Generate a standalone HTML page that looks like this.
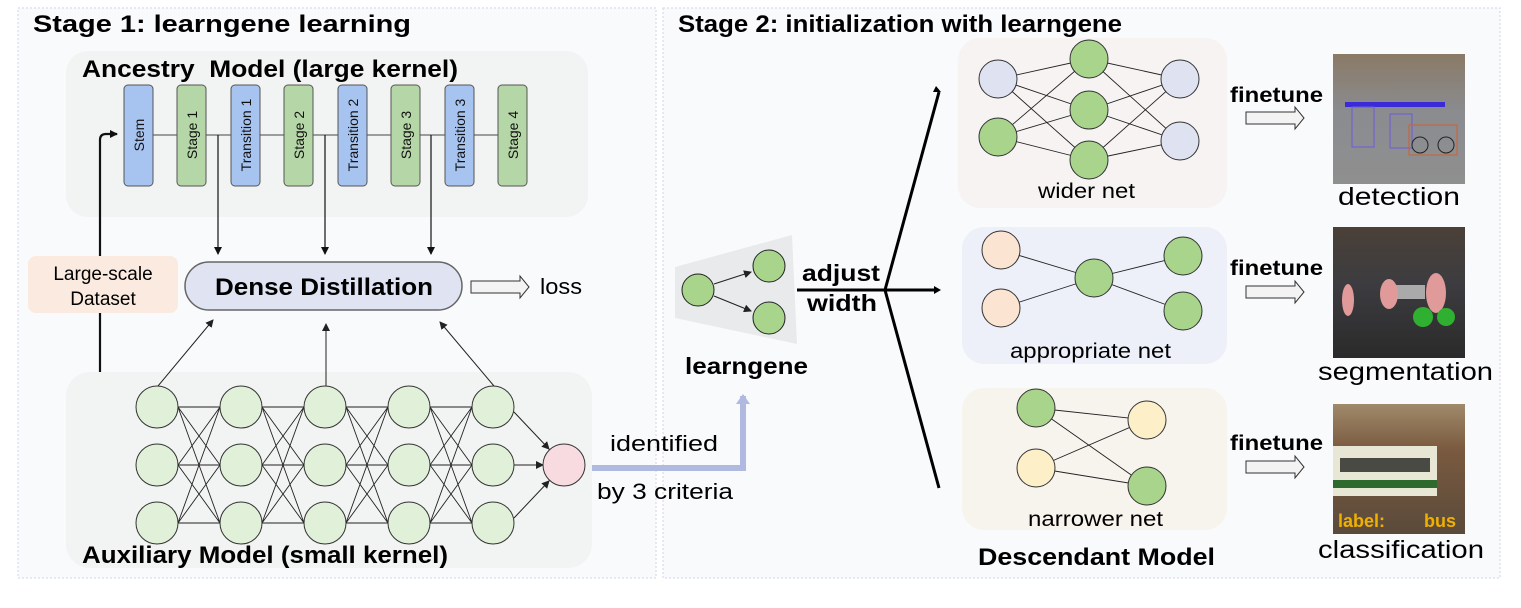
<!DOCTYPE html>
<html><head><meta charset="utf-8"><style>
html,body{margin:0;padding:0;background:#fff;}
svg{display:block;font-family:"Liberation Sans",Arial,sans-serif;}
</style></head><body>
<svg width="1521" height="608" viewBox="0 0 1521 608" xmlns="http://www.w3.org/2000/svg">
<defs>
<marker id="ah" markerWidth="8" markerHeight="8" refX="7" refY="4" orient="auto" markerUnits="userSpaceOnUse"><path d="M0,0 L8,4 L0,8 z" fill="#111"/></marker>
<marker id="ahb" markerWidth="8" markerHeight="8" refX="7" refY="4" orient="auto" markerUnits="userSpaceOnUse"><path d="M0,0 L8,4 L0,8 z" fill="#222"/></marker>
<marker id="ahl" markerWidth="16" markerHeight="16" refX="8" refY="8" orient="auto" markerUnits="userSpaceOnUse"><path d="M0,1 L10,8 L0,15 z" fill="#b0b9e0"/></marker>
</defs>
<!-- panels -->
<rect x="18" y="8" width="638" height="570" fill="#f9fafc" stroke="#cfd6ee" stroke-dasharray="2,2"/>
<rect x="663" y="8" width="837" height="570" fill="#f9fafc" stroke="#cfd6ee" stroke-dasharray="2,2"/>
<text x="33" y="32" font-size="24" font-weight="bold" textLength="378" lengthAdjust="spacingAndGlyphs">Stage 1: learngene learning</text>
<text x="678" y="32" font-size="24" font-weight="bold" textLength="444" lengthAdjust="spacingAndGlyphs">Stage 2: initialization with learngene</text>

<!-- Ancestry -->
<rect x="66" y="51" width="522" height="166" rx="22" fill="#f2f3f3"/>
<text x="82" y="77" font-size="24" font-weight="bold" xml:space="preserve" textLength="376" lengthAdjust="spacingAndGlyphs">Ancestry  Model (large kernel)</text>
<line x1="148" y1="135" x2="522" y2="135" stroke="#444" stroke-width="1"/>
<g stroke="#555" stroke-width="1">
<rect x="124" y="85" width="29" height="101" rx="4" fill="#a7c4f1"/>
<rect x="177" y="85" width="29" height="101" rx="4" fill="#b5d6a6"/>
<rect x="231" y="85" width="29" height="101" rx="4" fill="#a7c4f1"/>
<rect x="284" y="85" width="29" height="101" rx="4" fill="#b5d6a6"/>
<rect x="338" y="85" width="29" height="101" rx="4" fill="#a7c4f1"/>
<rect x="391" y="85" width="29" height="101" rx="4" fill="#b5d6a6"/>
<rect x="445" y="85" width="29" height="101" rx="4" fill="#a7c4f1"/>
<rect x="498" y="85" width="29" height="101" rx="4" fill="#b5d6a6"/>
</g>
<g font-size="14" fill="#111" text-anchor="middle">
<text transform="translate(144,135) rotate(-90)">Stem</text>
<text transform="translate(197,135) rotate(-90)">Stage 1</text>
<text transform="translate(251,135) rotate(-90)">Transition 1</text>
<text transform="translate(304,135) rotate(-90)">Stage 2</text>
<text transform="translate(358,135) rotate(-90)">Transition 2</text>
<text transform="translate(411,135) rotate(-90)">Stage 3</text>
<text transform="translate(465,135) rotate(-90)">Transition 3</text>
<text transform="translate(518,135) rotate(-90)">Stage 4</text>
</g>
<g stroke="#111" stroke-width="1.2" marker-end="url(#ah)">
<line x1="218" y1="135" x2="218" y2="254"/>
<line x1="325" y1="135" x2="325" y2="254"/>
<line x1="431" y1="135" x2="431" y2="254"/>
</g>

<!-- dataset -->
<rect x="28" y="256" width="150" height="57" rx="8" fill="#fbeadf"/>
<text x="103" y="280" font-size="19" text-anchor="middle">Large-scale</text>
<text x="103" y="305" font-size="19" text-anchor="middle">Dataset</text>
<path d="M100,256 V140 Q100,134 106,134 H117" fill="none" stroke="#111" stroke-width="2.2" marker-end="url(#ah)"/>
<path d="M100,313 V424 Q100,430 106,430 H117" fill="none" stroke="#111" stroke-width="2.2" marker-end="url(#ah)"/>

<!-- dense distillation -->
<rect x="185" y="262" width="277" height="48" rx="24" fill="#dfe3f2" stroke="#666" stroke-width="1.5"/>
<text x="215" y="295" font-size="24" font-weight="bold" textLength="218" lengthAdjust="spacingAndGlyphs">Dense Distillation</text>
<path d="M471,281 H520 V276 L529,287 L520,298 V293 H471 Z" fill="#f3f3f3" stroke="#333" stroke-width="1"/>
<text x="540" y="294" font-size="22" textLength="42" lengthAdjust="spacingAndGlyphs">loss</text>

<!-- auxiliary -->
<rect x="66" y="372" width="526" height="196" rx="24" fill="#f2f3f3"/>
<g stroke="#222" stroke-width="0.9" fill="none">
<path d="M178,407L220,407M178,407L220,465M178,407L220,523M178,465L220,407M178,465L220,465M178,465L220,523M178,523L220,407M178,523L220,465M178,523L220,523"/>
<path d="M262,407L304,407M262,407L304,465M262,407L304,523M262,465L304,407M262,465L304,465M262,465L304,523M262,523L304,407M262,523L304,465M262,523L304,523"/>
<path d="M346,407L388,407M346,407L388,465M346,407L388,523M346,465L388,407M346,465L388,465M346,465L388,523M346,523L388,407M346,523L388,465M346,523L388,523"/>
<path d="M430,407L472,407M430,407L472,465M430,407L472,523M430,465L472,407M430,465L472,465M430,465L472,523M430,523L472,407M430,523L472,465M430,523L472,523"/>
</g>
<g stroke="#222" stroke-width="1" marker-end="url(#ahb)">
<line x1="514" y1="412" x2="549" y2="449"/>
<line x1="514" y1="465" x2="543" y2="465"/>
<line x1="514" y1="518" x2="549" y2="481"/>
<line x1="158" y1="386" x2="213" y2="320"/>
<line x1="326" y1="386" x2="326" y2="324"/>
<line x1="494" y1="386" x2="440" y2="322"/>
</g>
<g fill="#e1f0d8" stroke="#333" stroke-width="1">
<ellipse cx="157" cy="407" rx="21" ry="21"/><ellipse cx="157" cy="465" rx="21" ry="21"/><ellipse cx="157" cy="523" rx="21" ry="21"/>
<ellipse cx="241" cy="407" rx="21" ry="21"/><ellipse cx="241" cy="465" rx="21" ry="21"/><ellipse cx="241" cy="523" rx="21" ry="21"/>
<ellipse cx="325" cy="407" rx="21" ry="21"/><ellipse cx="325" cy="465" rx="21" ry="21"/><ellipse cx="325" cy="523" rx="21" ry="21"/>
<ellipse cx="409" cy="407" rx="21" ry="21"/><ellipse cx="409" cy="465" rx="21" ry="21"/><ellipse cx="409" cy="523" rx="21" ry="21"/>
<ellipse cx="493" cy="407" rx="21" ry="21"/><ellipse cx="493" cy="465" rx="21" ry="21"/><ellipse cx="493" cy="523" rx="21" ry="21"/>
</g>
<ellipse cx="564" cy="465" rx="21" ry="21" fill="#f8dbe0" stroke="#333" stroke-width="1"/>
<text x="82" y="563" font-size="24" font-weight="bold" textLength="366" lengthAdjust="spacingAndGlyphs">Auxiliary Model (small kernel)</text>

<!-- identified -->
<path d="M592,468 H743 V396" fill="none" stroke="#b0b9e0" stroke-width="6" marker-end="url(#ahl)"/>
<text x="610" y="451" font-size="22" textLength="108" lengthAdjust="spacingAndGlyphs">identified</text>
<text x="597" y="499" font-size="22" textLength="136" lengthAdjust="spacingAndGlyphs">by 3 criteria</text>

<!-- learngene -->
<path d="M675,267 L792,235 L797,344 L675,318 Z" fill="#e9eaec"/>
<g stroke="#222" stroke-width="1.1" marker-end="url(#ahb)">
<line x1="714" y1="284" x2="751" y2="272"/>
<line x1="714" y1="296" x2="751" y2="311"/>
</g>
<g fill="#a8d48c" stroke="#222" stroke-width="1">
<circle cx="698" cy="290" r="16"/><circle cx="769" cy="266" r="16"/><circle cx="769" cy="318" r="16"/>
</g>
<text x="685" y="374" font-size="23" font-weight="bold" textLength="123" lengthAdjust="spacingAndGlyphs">learngene</text>
<text x="802" y="281" font-size="23" font-weight="bold" textLength="78" lengthAdjust="spacingAndGlyphs">adjust</text>
<text x="807" y="311" font-size="23" font-weight="bold" textLength="70" lengthAdjust="spacingAndGlyphs">width</text>
<g stroke="#000" stroke-width="3" fill="none">
<line x1="797" y1="290" x2="934" y2="290"/>
<line x1="885" y1="290" x2="939" y2="92"/>
<line x1="885" y1="290" x2="939" y2="488"/>
</g>
<path d="M934,286 L941,290 L934,294 z" fill="#000"/>
<path d="M936,86 L941,92 L933,92 z" fill="#000"/>

<!-- wider -->
<rect x="958" y="38" width="269" height="170" rx="22" fill="#f7f3f3"/>
<g stroke="#222" stroke-width="0.9">
<path d="M998,79L1089,59M998,79L1089,110M998,79L1089,160M998,137L1089,59M998,137L1089,110M998,137L1089,160M1089,59L1180,79M1089,59L1180,141M1089,110L1180,79M1089,110L1180,141M1089,160L1180,79M1089,160L1180,141"/>
</g>
<g stroke="#333" stroke-width="1">
<circle cx="998" cy="79" r="19" fill="#dfe3f1"/><circle cx="998" cy="137" r="19" fill="#a8d48c"/>
<circle cx="1089" cy="59" r="19" fill="#a8d48c"/><circle cx="1089" cy="110" r="19" fill="#a8d48c"/><circle cx="1089" cy="160" r="19" fill="#a8d48c"/>
<circle cx="1180" cy="79" r="19" fill="#dfe3f1"/><circle cx="1180" cy="141" r="19" fill="#dfe3f1"/>
</g>
<text x="1038" y="198" font-size="21" textLength="97" lengthAdjust="spacingAndGlyphs">wider net</text>

<!-- appropriate -->
<rect x="962" y="227" width="265" height="137" rx="22" fill="#eef0f9"/>
<g stroke="#222" stroke-width="0.9">
<path d="M1001,250L1094,278M1001,308L1094,278M1094,278L1183,256M1094,278L1183,311"/>
</g>
<g stroke="#333" stroke-width="1">
<circle cx="1001" cy="250" r="19" fill="#fbe5d2"/><circle cx="1001" cy="308" r="19" fill="#fbe5d2"/>
<circle cx="1094" cy="278" r="19" fill="#a8d48c"/>
<circle cx="1183" cy="256" r="19" fill="#a8d48c"/><circle cx="1183" cy="311" r="19" fill="#a8d48c"/>
</g>
<text x="1010" y="358" font-size="21" textLength="161" lengthAdjust="spacingAndGlyphs">appropriate net</text>

<!-- narrower -->
<rect x="962" y="388" width="265" height="142" rx="22" fill="#f7f4ee"/>
<g stroke="#222" stroke-width="0.9">
<path d="M1036,408L1147,420M1036,408L1147,486M1036,468L1147,420M1036,468L1147,486"/>
</g>
<g stroke="#333" stroke-width="1">
<circle cx="1036" cy="408" r="19" fill="#a8d48c"/><circle cx="1036" cy="468" r="19" fill="#fdf0c9"/>
<circle cx="1147" cy="420" r="19" fill="#fdf0c9"/><circle cx="1147" cy="486" r="19" fill="#a8d48c"/>
</g>
<text x="1028" y="526" font-size="21" textLength="135" lengthAdjust="spacingAndGlyphs">narrower net</text>
<text x="978" y="565" font-size="24" font-weight="bold" textLength="237" lengthAdjust="spacingAndGlyphs">Descendant Model</text>

<!-- finetune -->
<g font-size="21" font-weight="bold">
<text x="1230" y="102" textLength="93" lengthAdjust="spacingAndGlyphs">finetune</text>
<text x="1230" y="275" textLength="93" lengthAdjust="spacingAndGlyphs">finetune</text>
<text x="1230" y="450" textLength="93" lengthAdjust="spacingAndGlyphs">finetune</text>
</g>
<g fill="#f3f3f3" stroke="#333" stroke-width="1">
<path d="M1246,112 H1295 V107 L1304,118 L1295,129 V124 H1246 Z"/>
<path d="M1246,286 H1295 V281 L1304,292 L1295,303 V298 H1246 Z"/>
<path d="M1246,461 H1295 V456 L1304,467 L1295,478 V473 H1246 Z"/>
</g>

<!-- images -->
<defs>
<linearGradient id="g1" x1="0" y1="0" x2="0" y2="1"><stop offset="0" stop-color="#8a7a66"/><stop offset="0.45" stop-color="#8a8c90"/><stop offset="1" stop-color="#8f8f8f"/></linearGradient>
<linearGradient id="g2" x1="0" y1="0" x2="0" y2="1"><stop offset="0" stop-color="#4a4038"/><stop offset="0.45" stop-color="#3c3c40"/><stop offset="1" stop-color="#2a2a2a"/></linearGradient>
<linearGradient id="g3" x1="0" y1="0" x2="0" y2="1"><stop offset="0" stop-color="#a08a6a"/><stop offset="0.35" stop-color="#7a5a40"/><stop offset="1" stop-color="#5a4a3a"/></linearGradient>
</defs>
<rect x="1333" y="54" width="132" height="130" fill="url(#g1)"/>
<rect x="1345" y="102" width="100" height="5" fill="#3a2ad8"/>
<rect x="1352" y="107" width="22" height="40" fill="none" stroke="#6a5ae0"/>
<rect x="1390" y="114" width="22" height="34" fill="none" stroke="#6a5ae0"/>
<rect x="1409" y="125" width="48" height="30" fill="none" stroke="#d06030"/>
<circle cx="1420" cy="145" r="8" fill="none" stroke="#222"/><circle cx="1446" cy="145" r="8" fill="none" stroke="#222"/>
<text x="1338" y="205" font-size="25" textLength="122" lengthAdjust="spacingAndGlyphs">detection</text>

<rect x="1333" y="227" width="132" height="131" fill="url(#g2)"/>
<rect x="1395" y="285" width="30" height="14" fill="#aaa"/>
<ellipse cx="1348" cy="300" rx="6" ry="16" fill="#e09a9a"/>
<ellipse cx="1389" cy="294" rx="9" ry="15" fill="#e09a9a"/>
<ellipse cx="1436" cy="293" rx="10" ry="20" fill="#e09a9a"/>
<circle cx="1423" cy="317" r="10" fill="#30b030"/><circle cx="1446" cy="317" r="9" fill="#30b030"/>
<text x="1318" y="380" font-size="25" textLength="175" lengthAdjust="spacingAndGlyphs">segmentation</text>

<rect x="1333" y="404" width="132" height="130" fill="url(#g3)"/>
<rect x="1333" y="446" width="104" height="50" fill="#e8e6d4"/>
<rect x="1333" y="480" width="104" height="8" fill="#2e6a2e"/>
<rect x="1340" y="458" width="90" height="14" fill="#4a4a44"/>
<text x="1338" y="527" font-size="18" font-weight="bold" fill="#f0b000">label:</text>
<text x="1424" y="527" font-size="18" font-weight="bold" fill="#f0b000">bus</text>
<text x="1318" y="558" font-size="25" textLength="166" lengthAdjust="spacingAndGlyphs">classification</text>
</svg>
</body></html>
